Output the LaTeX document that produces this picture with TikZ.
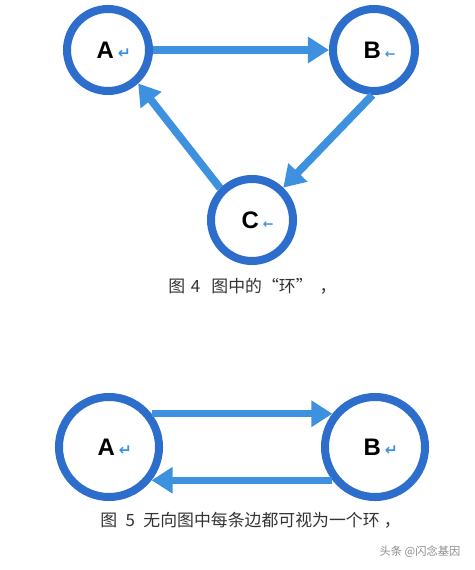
\documentclass[tikz,border=0pt]{standalone}
\usepackage{fontspec}
\setmainfont{Liberation Sans}
\newfontfamily\cjkfont{Noto Sans CJK SC}
\newfontfamily\symfont{DejaVu Sans}
\usetikzlibrary{arrows.meta}

\definecolor{ringblue}{RGB}{45,110,205}
\definecolor{edgeblue}{RGB}{62,145,222}

\tikzset{
  vertex/.style={circle, draw=ringblue, line width=5.7pt, fill=white, minimum size=2.05cm, inner sep=0pt, font=\fontsize{17}{17}\selectfont\bfseries},
  bigvertex/.style={vertex, minimum size=2.5cm},
  edge/.style={draw=edgeblue, line width=5.5pt, -{Triangle[length=15pt,width=18pt]}},
  caption/.style={font=\cjkfont\fontsize{12}{14}\selectfont, text=black!80, anchor=west, inner sep=0pt},
}
\newcommand{\retmark}{\textcolor{edgeblue}{\symfont\fontsize{11}{11}\selectfont ↵}}
\newcommand{\backmark}{\textcolor{edgeblue}{\symfont\fontsize{9}{9}\selectfont ←}}

\begin{document}
\begin{tikzpicture}[x=0.025cm, y=-0.025cm]
        \useasboundingbox (0,0) rectangle (474,570);
        % figure 4: a cycle A -> B -> C -> A
        \node [vertex] (a) at (108,50) {\hspace*{8pt}A\,\retmark};
        \node [vertex] (b) at (374,50) {\hspace*{8pt}B\,\backmark};
        \node [vertex] (c) at (252,220) {\hspace*{8pt}C\,\backmark};
        \draw [edge] (a.east) -- (b.west);
        \draw [edge] (b.-92) -- (c.46);
        \draw [edge] (c.135) -- (a.-48);
        \node [caption] (cap4) at (168,286) {图\hspace{4pt}4\hspace{8pt}图中的“环”\hspace{5pt}，};
        % figure 5: two edges between A and B
        \node [bigvertex] (p) at (109,447) {\hspace*{8pt}A\,\retmark};
        \node [bigvertex] (q) at (375,447) {\hspace*{8pt}B\,\retmark};
        \draw [edge, line width=5pt] (p.38) -- (q.142);
        \draw [edge, line width=5pt] (q.-142) -- (p.-38);
        \node [caption] (cap5) at (100,520) {图\hspace{6pt}5\hspace{6pt}无向图中每条边都可视为一个环\hspace{3pt}，};
        \node [font=\cjkfont\fontsize{8}{9}\selectfont, text=black!45] (mark) at (420,552) {头条 @闪念基因};
\end{tikzpicture}
\end{document}
